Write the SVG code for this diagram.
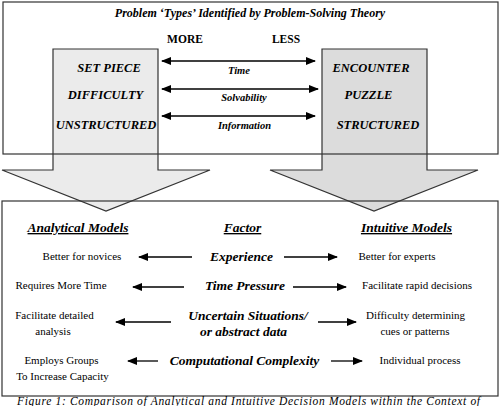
<svg xmlns="http://www.w3.org/2000/svg" width="500" height="406" viewBox="0 0 500 406">
<style>
text{font-family:"Liberation Serif","Times New Roman","DejaVu Serif",serif;fill:#000}
.bi{font-weight:bold;font-style:italic}
.b{font-weight:bold}
.it{font-style:italic}
.box{fill:none;stroke:#333;stroke-width:1.2}
.conn{stroke:#000;stroke-width:1.3;fill:none}
</style>
<defs>
<marker id="ah" markerUnits="userSpaceOnUse" markerWidth="10" markerHeight="8" refX="9" refY="4" orient="auto-start-reverse">
<path d="M0,0 L10,4 L0,8 Z" fill="#000"/>
</marker>
</defs>
<rect x="0" y="0" width="500" height="406" fill="#fff"/>
<g id="arrow-left">
<path d="M53,49 H158 V170 H210 L106,211 L2,170 H53 Z" fill="#ebebeb" stroke="#333" stroke-width="1.2"/>
</g>
<g id="arrow-right">
<path d="M322,49 H427 V170 H478 L374,211 L270,170 H322 Z" fill="#dcdcdc" stroke="#333" stroke-width="1.2"/>
</g>
<g id="top-box" font-family="Liberation Serif, serif">
<rect class="box" x="3" y="2" width="495" height="152"/>
<text class="bi" x="250" y="17" font-size="12" text-anchor="middle">Problem ‘Types’ Identified by Problem-Solving Theory</text>
<text class="b" x="185" y="43" font-size="11.5" text-anchor="middle">MORE</text>
<text class="b" x="286" y="43" font-size="11.5" text-anchor="middle">LESS</text>
</g>
<g id="left-types" font-family="Liberation Serif, serif">
<text class="bi" x="109" y="72" font-size="12.5" text-anchor="middle">SET PIECE</text>
<text class="bi" x="105.5" y="99" font-size="12.5" text-anchor="middle">DIFFICULTY</text>
<text class="bi" x="106" y="129" font-size="12.5" text-anchor="middle">UNSTRUCTURED</text>
</g>
<g id="right-types" font-family="Liberation Serif, serif">
<text class="bi" x="371" y="72" font-size="12.5" text-anchor="middle">ENCOUNTER</text>
<text class="bi" x="368.5" y="99" font-size="12.5" text-anchor="middle">PUZZLE</text>
<text class="bi" x="378" y="129" font-size="12.5" text-anchor="middle">STRUCTURED</text>
</g>
<g id="bottom-box" font-family="Liberation Serif, serif">
<rect class="box" x="2" y="201" width="496" height="195"/>
<text class="bi" x="78" y="232" font-size="13.5" text-anchor="middle" text-decoration="underline">Analytical Models</text>
<text class="bi" x="242.5" y="232" font-size="13.5" text-anchor="middle" text-decoration="underline">Factor</text>
<text class="bi" x="406.5" y="232" font-size="13.5" text-anchor="middle" text-decoration="underline">Intuitive Models</text>
</g>
<g id="row-experience" font-family="Liberation Serif, serif">
<text x="82" y="260" font-size="11" text-anchor="middle">Better for novices</text>
<text class="bi" x="241.5" y="261" font-size="13.5" text-anchor="middle">Experience</text>
<text x="397" y="260" font-size="11" text-anchor="middle">Better for experts</text>
</g>
<g id="row-time" font-family="Liberation Serif, serif">
<text x="61" y="289" font-size="11" text-anchor="middle">Requires More Time</text>
<text class="bi" x="245" y="290" font-size="13.5" text-anchor="middle">Time Pressure</text>
<text x="417" y="289" font-size="11" text-anchor="middle">Facilitate rapid decisions</text>
</g>
<g id="row-uncertain" font-family="Liberation Serif, serif">
<text x="54.5" y="319" font-size="11" text-anchor="middle">Facilitate detailed</text>
<text x="53" y="335" font-size="11" text-anchor="middle">analysis</text>
<text class="bi" x="248" y="320" font-size="13.5" text-anchor="middle">Uncertain Situations/</text>
<text class="bi" x="243.5" y="336" font-size="13.5" text-anchor="middle">or abstract data</text>
<text x="415.5" y="319" font-size="11" text-anchor="middle">Difficulty determining</text>
<text x="415" y="335" font-size="11" text-anchor="middle">cues or patterns</text>
</g>
<g id="row-complexity" font-family="Liberation Serif, serif">
<text x="61.5" y="364" font-size="11" text-anchor="middle">Employs Groups</text>
<text x="62.5" y="380" font-size="11" text-anchor="middle">To Increase Capacity</text>
<text class="bi" x="244.5" y="365" font-size="13.5" text-anchor="middle">Computational Complexity</text>
<text x="420" y="364" font-size="11" text-anchor="middle">Individual process</text>
</g>
<g id="connectors">
<line class="conn" x1="162" y1="61" x2="315" y2="61" marker-start="url(#ah)" marker-end="url(#ah)"/>
<line class="conn" x1="162" y1="89" x2="318" y2="89" marker-start="url(#ah)" marker-end="url(#ah)"/>
<line class="conn" x1="162" y1="116" x2="315" y2="116" marker-start="url(#ah)" marker-end="url(#ah)"/>
<line class="conn" x1="192" y1="257" x2="139" y2="257" marker-end="url(#ah)"/>
<line class="conn" x1="284" y1="257" x2="337" y2="257" marker-end="url(#ah)"/>
<line class="conn" x1="184" y1="287" x2="133" y2="287" marker-end="url(#ah)"/>
<line class="conn" x1="293" y1="287" x2="346" y2="287" marker-end="url(#ah)"/>
<line class="conn" x1="171" y1="322" x2="116" y2="322" marker-end="url(#ah)"/>
<line class="conn" x1="318" y1="322" x2="356" y2="322" marker-end="url(#ah)"/>
<line class="conn" x1="158" y1="361" x2="128" y2="361" marker-end="url(#ah)"/>
<line class="conn" x1="331" y1="361" x2="362" y2="361" marker-end="url(#ah)"/>
</g>
<g id="mid-labels" font-family="Liberation Serif, serif">
<text class="bi" x="239" y="74" font-size="10.5" text-anchor="middle">Time</text>
<text class="bi" x="244" y="101" font-size="10.5" text-anchor="middle">Solvability</text>
<text class="bi" x="244.5" y="129" font-size="10.5" text-anchor="middle">Information</text>
</g>
<text class="it" x="17" y="404.5" font-size="11.5" textLength="463" lengthAdjust="spacing">Figure 1: Comparison of Analytical and Intuitive Decision Models within the Context of</text>
</svg>
